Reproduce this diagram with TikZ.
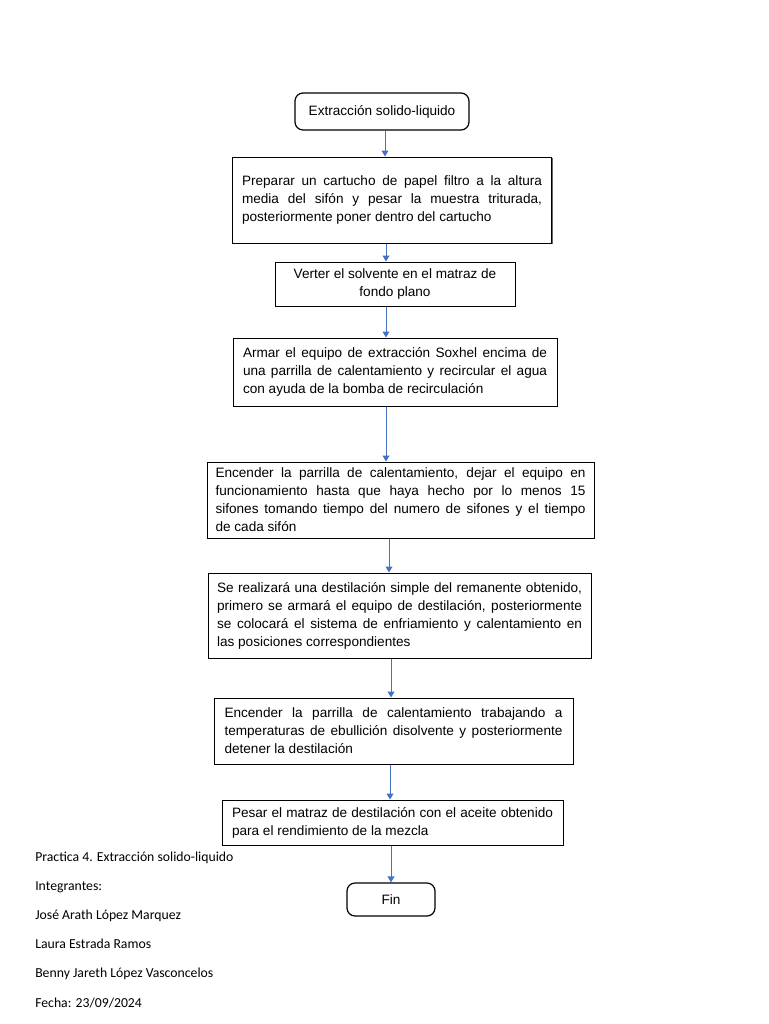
\documentclass[tikz,border=0pt]{standalone}
\usepackage{fontspec}
\setmainfont{Liberation Sans}
\newfontfamily\calibfont{Carlito}
\usetikzlibrary{arrows.meta,shadows}
\definecolor{arrblue}{RGB}{68,114,196}
\newcommand{\jline}[2]{\makebox[#1][s]{#2}}
\begin{document}
\begin{tikzpicture}[x=0.75pt,y=-0.75pt,
  stepbox/.style={draw=black, line width=0.75pt, fill=white, inner sep=0pt, align=left,
    font=\fontsize{10.2}{13.5}\selectfont,
    drop shadow={shadow xshift=0.8pt, shadow yshift=-0.8pt, fill=black, opacity=0.6}},
  roundbox/.style={draw=black, rounded corners=6pt, line width=0.9pt, fill=white, inner sep=0pt,
    align=center, font=\fontsize{10.2}{13.5}\selectfont},
  arr/.style={draw=arrblue, line width=0.75pt, -{Triangle[length=4.5pt,width=5.2pt]}},
  info/.style={anchor=base west, inner sep=0pt, font=\calibfont\fontsize{10.3}{12}\selectfont}]
\useasboundingbox (0,0) rectangle (768,1024);

\node[roundbox, minimum width=130.5pt, minimum height=27.75pt] (s) at (382,111.5) {Extracción solido-liquido};

\node[stepbox, minimum width=239.6pt, minimum height=64.5pt] (b2) at (392,200)
 {\jline{225pt}{Preparar un cartucho de papel filtro a la altura}\\
  \jline{225pt}{media del sifón y pesar la muestra triturada,}\\
  posteriormente poner dentro del cartucho};

\node[stepbox, align=center, minimum width=180pt, minimum height=33pt] (b3) at (395,284)
 {Verter el solvente en el matraz de\\fondo plano};

\node[stepbox, minimum width=243pt, minimum height=51pt] (b4) at (395,372)
 {\jline{228pt}{Armar el equipo de extracción Soxhel encima de}\\
  \jline{228pt}{una parrilla de calentamiento y recircular el agua}\\
  con ayuda de la bomba de recirculación};

\node[stepbox, minimum width=290.25pt, minimum height=57pt] (b5) at (400.5,500)
 {\jline{277.5pt}{Encender la parrilla de calentamiento, dejar el equipo en}\\
  \jline{277.5pt}{funcionamiento hasta que haya hecho por lo menos 15}\\
  \jline{277.5pt}{sifones tomando tiempo del numero de sifones y el tiempo}\\
  de cada sifón};

\node[stepbox, minimum width=287.25pt, minimum height=63.75pt] (b6) at (399.5,615.5)
 {\jline{273.75pt}{Se realizará una destilación simple del remanente obtenido,}\\
  \jline{273.75pt}{primero se armará el equipo de destilación, posteriormente}\\
  \jline{273.75pt}{se colocará el sistema de enfriamiento y calentamiento en}\\
  las posiciones correspondientes};

\node[stepbox, minimum width=269.25pt, minimum height=49.5pt] (b7) at (393.5,731)
 {\jline{253.5pt}{Encender la parrilla de calentamiento trabajando a}\\
  \jline{253.5pt}{temperaturas de ebullición disolvente y posteriormente}\\
  detener la destilación};

\node[stepbox, minimum width=255.75pt, minimum height=33.75pt] (b8) at (392.5,822.5)
 {\jline{240.75pt}{Pesar el matraz de destilación con el aceite obtenido}\\
  para el rendimiento de la mezcla};

\node[roundbox, minimum width=66pt, minimum height=24.75pt] (fin) at (391,899.5) {Fin};

\coordinate (c1) at (385,0);
\coordinate (c2) at (386,0);
\coordinate (c3) at (386,0);
\coordinate (c4) at (386,0);
\coordinate (c5) at (389,0);
\coordinate (c6) at (391,0);
\coordinate (c7) at (390,0);
\coordinate (c8) at (391,0);

\draw[arr] (s.south -| c1) -- (b2.north -| c1);
\draw[arr] (b2.south -| c2) -- (b3.north -| c2);
\draw[arr] (b3.south -| c3) -- (b4.north -| c3);
\draw[arr] (b4.south -| c4) -- (b5.north -| c4);
\draw[arr] (b5.south -| c5) -- (b6.north -| c5);
\draw[arr] (b6.south -| c6) -- (b7.north -| c6);
\draw[arr] (b7.south -| c7) -- (b8.north -| c7);
\draw[arr] (b8.south -| c8) -- (fin.north -| c8);

\node[info] (t1) at (35,861) {Practica 4. Extracción solido-liquido};
\node[info] (t2) at (35,890.2) {Integrantes:};
\node[info] (t3) at (35,919.4) {José Arath López Marquez};
\node[info] (t4) at (35,948.6) {Laura Estrada Ramos};
\node[info] (t5) at (35,977.8) {Benny Jareth López Vasconcelos};
\node[info] (t6) at (35,1007) {Fecha: 23/09/2024};
\end{tikzpicture}
\end{document}
